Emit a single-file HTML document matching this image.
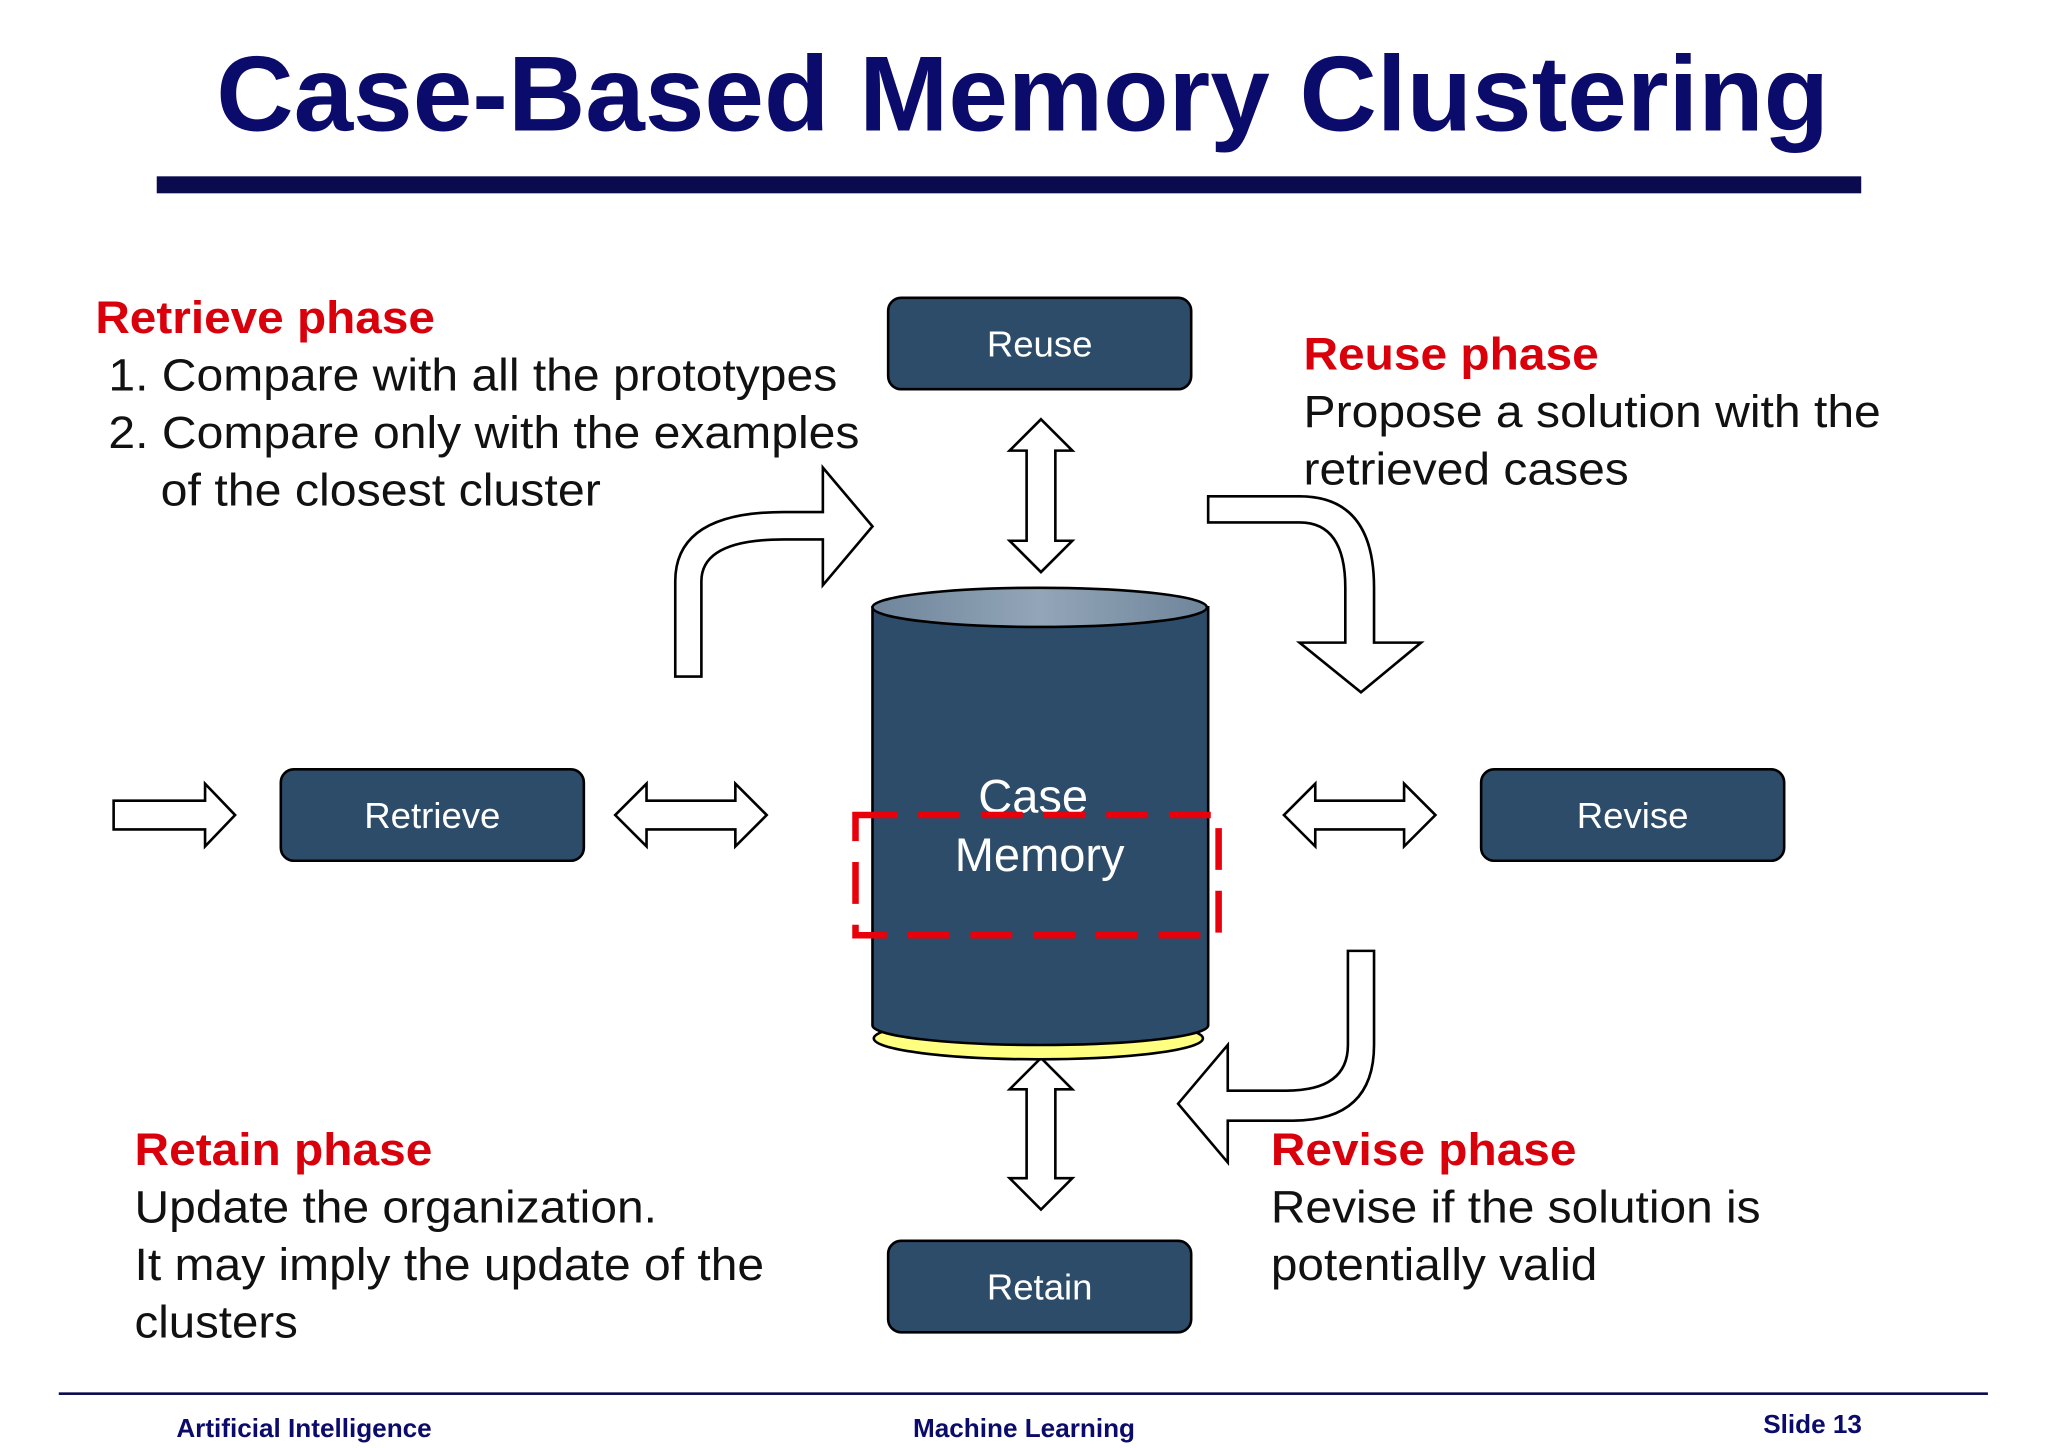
<!DOCTYPE html>
<html><head><meta charset="utf-8"><style>
html,body{margin:0;padding:0;background:#fff;}
svg{display:block;}
text{font-family:"Liberation Sans",Arial,sans-serif;}
</style></head><body>
<svg width="2048" height="1448" viewBox="0 0 1568 1108.6" preserveAspectRatio="none" xmlns="http://www.w3.org/2000/svg">
<defs>
<linearGradient id="top" x1="0" y1="0" x2="1" y2="0"><stop offset="0" stop-color="#6f859b"/><stop offset="0.5" stop-color="#93a6b8"/><stop offset="1" stop-color="#6f859b"/></linearGradient>
</defs>
<rect width="1568" height="1109" fill="#fff"/>
<text x="783" y="100" text-anchor="middle" font-size="82" font-weight="bold" fill="#0b0b6b">Case-Based Memory Clustering</text>
<rect x="120" y="135" width="1305" height="13" fill="#0a0a4e"/>

<g fill="#fff" stroke="#000" stroke-width="2">
<path d="M517,518 L517,445 Q517,392 600,392 L630,392 L630,358 L668,403 L630,448 L630,413 L600,413 Q537,413 537,445 L537,518 Z"/>
<path d="M925,380 L995,380 Q1052,380 1052,450 L1052,492 L1088,492 L1042,530 L995,492 L1030,492 L1030,450 Q1030,400 995,400 L925,400 Z"/>
<path d="M1032,728 L1052,728 L1052,800 Q1052,858 990,858 L940,858 L940,890 L902,845 L940,800 L940,835 L985,835 Q1032,835 1032,800 Z"/>
<polygon points="87,613 157,613 157,600 180,624 157,648 157,635 87,635"/>
<polygon points="471,624 495,600 495,613 563,613 563,600 587,624 563,648 563,635 495,635 495,648"/>
<polygon points="983,624 1007,600 1007,613 1075,613 1075,600 1099,624 1075,648 1075,635 1007,635 1007,648"/>
<polygon points="797,321 821,345 808,345 808,414 821,414 797,438 773,414 786,414 786,345 773,345"/>
<polygon points="797,810 821,834 808,834 808,902 821,902 797,926 773,902 786,902 786,834 773,834"/>
</g>

<g stroke="#000" stroke-width="2">
<ellipse cx="795" cy="795" rx="126" ry="16" fill="#ffff80"/>
<path d="M668,465 L668,785 A128,15 0 0 0 925,785 L925,465 Z" fill="#2d4c6a"/>
<ellipse cx="796" cy="465" rx="128" ry="15" fill="url(#top)"/>
</g>
<text x="791" y="622" text-anchor="middle" font-size="36" fill="#fff">Case</text>
<text x="796" y="667" text-anchor="middle" font-size="36" fill="#fff">Memory</text>
<rect x="655" y="624" width="278" height="92" fill="none" stroke="#e8000b" stroke-width="5" stroke-dasharray="32 16"/>

<g fill="#2d4c6a" stroke="#000" stroke-width="2">
<rect x="680" y="228" width="232" height="70" rx="10"/>
<rect x="215" y="589" width="232" height="70" rx="10"/>
<rect x="1134" y="589" width="232" height="70" rx="10"/>
<rect x="680" y="950" width="232" height="70" rx="10"/>
</g>
<g fill="#fff" font-size="28" text-anchor="middle">
<text x="796" y="273">Reuse</text>
<text x="331" y="634">Retrieve</text>
<text x="1250" y="634">Revise</text>
<text x="796" y="995">Retain</text>
</g>

<g font-size="35" font-weight="bold" fill="#d9000b" lengthAdjust="spacingAndGlyphs">
<text x="73" y="255" textLength="260" lengthAdjust="spacingAndGlyphs">Retrieve phase</text>
<text x="998" y="283" textLength="226" lengthAdjust="spacingAndGlyphs">Reuse phase</text>
<text x="103" y="892" textLength="228" lengthAdjust="spacingAndGlyphs">Retain phase</text>
<text x="973" y="892" textLength="234" lengthAdjust="spacingAndGlyphs">Revise phase</text>
</g>
<g font-size="35" fill="#111">
<text x="83" y="299" textLength="558" lengthAdjust="spacingAndGlyphs">1. Compare with all the prototypes</text>
<text x="83" y="343" textLength="575" lengthAdjust="spacingAndGlyphs">2. Compare only with the examples</text>
<text x="123" y="387" textLength="337" lengthAdjust="spacingAndGlyphs">of the closest cluster</text>
<text x="998" y="327" textLength="442" lengthAdjust="spacingAndGlyphs">Propose a solution with the</text>
<text x="998" y="371" textLength="249" lengthAdjust="spacingAndGlyphs">retrieved cases</text>
<text x="103" y="936" textLength="400" lengthAdjust="spacingAndGlyphs">Update the organization.</text>
<text x="103" y="980" textLength="482" lengthAdjust="spacingAndGlyphs">It may imply the update of the</text>
<text x="103" y="1024" textLength="125" lengthAdjust="spacingAndGlyphs">clusters</text>
<text x="973" y="936" textLength="375" lengthAdjust="spacingAndGlyphs">Revise if the solution is</text>
<text x="973" y="980" textLength="250" lengthAdjust="spacingAndGlyphs">potentially valid</text>
</g>

<rect x="45" y="1066" width="1477" height="2" fill="#0a0a4e"/>
<g font-size="20" font-weight="bold" fill="#0b0b6b">
<text x="135" y="1100">Artificial Intelligence</text>
<text x="784" y="1100" text-anchor="middle">Machine Learning</text>
<text x="1350" y="1097">Slide 13</text>
</g>
</svg>
</body></html>
